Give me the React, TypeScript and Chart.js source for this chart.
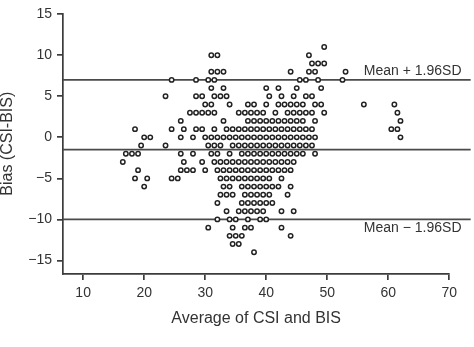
import React, { useEffect, useRef } from "react";
import { Chart, registerables } from "chart.js";

Chart.register(...registerables);

// ---- data: average of CSI and BIS for each observed bias level ----
const avgBias11 = [49.5];
const avgBias10 = [31, 32, 47];
const avgBias9 = [47.5, 48.5, 49.5];
const avgBias8 = [31, 32, 33, 44, 47, 48, 53];
const avgBias7 = [24.5, 28.5, 30.5, 31.5, 45.5, 46.5, 48.5, 52.5];
const avgBias6 = [31, 33, 40, 42, 45, 49];
const avgBias5 = [23.5, 28.5, 29.5, 31.5, 32.5, 33.5, 40.5, 42.5, 44.5, 46.5, 47.5];
const avgBias4 = [30, 31, 34, 37, 38, 40, 42, 43, 44, 45, 46, 48, 49, 56, 61];
const avgBias3 = [27.5, 28.5, 29.5, 30.5, 31.5, 35.5, 36.5, 37.5, 38.5, 39.5, 41.5, 43.5, 44.5, 45.5, 46.5, 47.5, 49.5, 61.5];
const avgBias2 = [26, 33, 37, 38, 39, 40, 41, 42, 43, 44, 45, 46, 48, 62];
const avgBias1 = [18.5, 24.5, 26.5, 28.5, 29.5, 31.5, 33.5, 34.5, 35.5, 36.5, 37.5, 38.5, 39.5, 40.5, 41.5, 42.5, 43.5, 44.5, 45.5, 46.5, 47.5, 60.5, 61.5];
const avgBias0 = [20, 21, 26, 28, 30, 31, 32, 33, 34, 35, 36, 37, 38, 39, 40, 41, 42, 43, 44, 45, 46, 47, 48, 62];
const avgBiasM1 = [19.5, 23.5, 30.5, 31.5, 32.5, 34.5, 35.5, 36.5, 37.5, 38.5, 39.5, 40.5, 41.5, 42.5, 43.5, 44.5, 45.5, 46.5, 47.5];
const avgBiasM2 = [17, 18, 19, 26, 28, 31, 32, 34, 36, 37, 38, 39, 40, 41, 42, 43, 44, 45, 46, 48];
const avgBiasM3 = [16.5, 26.5, 29.5, 31.5, 32.5, 33.5, 34.5, 35.5, 36.5, 37.5, 38.5, 39.5, 40.5, 41.5, 42.5, 43.5, 44.5];
const avgBiasM4 = [19, 26, 27, 28, 30, 32, 33, 34, 35, 36, 37, 38, 39, 40, 41, 42, 43, 44];
const avgBiasM5 = [18.5, 20.5, 24.5, 25.5, 32.5, 33.5, 34.5, 35.5, 36.5, 37.5, 38.5, 39.5, 40.5, 42.5];
const avgBiasM6 = [20, 33, 34, 36, 37, 38, 39, 40, 41, 42, 44];
const avgBiasM7 = [32.5, 33.5, 34.5, 36.5, 37.5, 38.5, 39.5, 40.5, 43.5];
const avgBiasM8 = [32, 36, 37, 38, 39, 40, 41];
const avgBiasM9 = [33.5, 35.5, 36.5, 37.5, 38.5, 39.5, 42.5, 44.5];
const avgBiasM10 = [32, 34, 35, 37, 39, 40];
const avgBiasM11 = [30.5, 34.5, 36.5, 37.5, 42.5];
const avgBiasM12 = [34, 35, 36, 44];
const avgBiasM13 = [34.5, 35.5];
const avgBiasM14 = [38];

const biasLevels = [11, 10, 9, 8, 7, 6, 5, 4, 3, 2, 1, 0, -1, -2, -3, -4, -5, -6, -7, -8, -9, -10, -11, -12, -13, -14];
const averagesPerBias = [
  avgBias11, avgBias10, avgBias9, avgBias8, avgBias7, avgBias6, avgBias5, avgBias4, avgBias3,
  avgBias2, avgBias1, avgBias0, avgBiasM1, avgBiasM2, avgBiasM3, avgBiasM4, avgBiasM5,
  avgBiasM6, avgBiasM7, avgBiasM8, avgBiasM9, avgBiasM10, avgBiasM11, avgBiasM12, avgBiasM13, avgBiasM14,
];

// limits of agreement
const limitValues = [7, -1.5, -10];
const limitLabels = ["Mean + 1.96SD", "Mean \u2212 1.96SD"];
const limitLabelYs = [8.1, -11.05];

const xTickValues = [10, 20, 30, 40, 50, 60, 70];
const yTickValues = [-15, -10, -5, 0, 5, 10, 15];

// ---- layout / style constants ----
const X_MIN = 6.7;
const X_MAX = 70;
const Y_MIN = -16.65;
const Y_MAX = 15.1;
const LINE_END_X = 73.5;
const LABEL_RIGHT_X = 72.0;

const FONT = '"Liberation Sans", Arial, Helvetica, sans-serif';
const TEXT = "#333333";
const AXIS = "#3c3c3c";
const REF = "#4a4a4a";
const POINT = "#222222";

const limitsPlugin = {
  id: "limits",
  beforeDatasetsDraw(chart: any) {
    const { ctx, scales } = chart;
    const xs = scales.x;
    const ys = scales.y;
    ctx.save();
    ctx.strokeStyle = REF;
    ctx.lineWidth = 1.6;
    for (const v of limitValues) {
      const y = ys.getPixelForValue(v);
      ctx.beginPath();
      ctx.moveTo(xs.getPixelForValue(X_MIN), y);
      ctx.lineTo(xs.getPixelForValue(LINE_END_X), y);
      ctx.stroke();
    }
    ctx.restore();
  },
  afterDatasetsDraw(chart: any) {
    const { ctx, scales } = chart;
    const xs = scales.x;
    const ys = scales.y;
    ctx.save();
    ctx.fillStyle = TEXT;
    ctx.font = `14px ${FONT}`;
    ctx.textAlign = "right";
    ctx.textBaseline = "middle";
    limitLabels.forEach((t, i) => {
      ctx.fillText(t, xs.getPixelForValue(LABEL_RIGHT_X), ys.getPixelForValue(limitLabelYs[i]));
    });
    ctx.restore();
  },
};

export default function App() {
  const ref = useRef<HTMLCanvasElement>(null);

  useEffect(() => {
    const points = biasLevels.flatMap((b, i) => averagesPerBias[i].map((a) => ({ x: a, y: b })));
    const chart = new Chart(ref.current as HTMLCanvasElement, {
      type: "scatter",
      data: {
        datasets: [
          {
            data: points,
            pointRadius: 2.2,
            pointHoverRadius: 2.2,
            pointBorderWidth: 1.5,
            pointBorderColor: POINT,
            pointBackgroundColor: "#ffffff",
          },
        ],
      },
      options: {
        responsive: false,
        animation: false,
        events: [],
        layout: { padding: { top: 6, right: 24.7, left: 0, bottom: 0 } },
        plugins: { legend: { display: false }, tooltip: { enabled: false } },
        scales: {
          x: {
            type: "linear",
            min: X_MIN,
            max: X_MAX,
            afterBuildTicks: (s: any) => {
              s.ticks = xTickValues.map((v) => ({ value: v }));
            },
            afterFit: (s: any) => {
              s.height = 73;
            },
            grid: { drawOnChartArea: false, drawTicks: true, tickLength: 6, color: AXIS, lineWidth: 1.7 },
            border: { display: true, color: AXIS, width: 1.7 },
            ticks: { font: { family: FONT, size: 14 }, color: TEXT, padding: 5, maxRotation: 0, autoSkip: false },
            title: {
              display: true,
              text: "Average of CSI and BIS",
              font: { family: FONT, size: 16 },
              color: TEXT,
              padding: { top: 0, bottom: 19 },
            },
          },
          y: {
            type: "linear",
            min: Y_MIN,
            max: Y_MAX,
            afterBuildTicks: (s: any) => {
              s.ticks = yTickValues.map((v) => ({ value: v }));
            },
            afterFit: (s: any) => {
              s.width = 63;
            },
            grid: { drawOnChartArea: false, drawTicks: true, tickLength: 6, color: AXIS, lineWidth: 1.7 },
            border: { display: true, color: AXIS, width: 1.7 },
            ticks: {
              font: { family: FONT, size: 14 },
              color: TEXT,
              padding: 5,
              autoSkip: false,
              callback: (v: any) => `${v}`.replace("-", "\u2212"),
            },
            title: {
              display: true,
              text: "Bias (CSI-BIS)",
              font: { family: FONT, size: 16, lineHeight: 0.9 },
              color: TEXT,
              padding: { top: 0, bottom: 0 },
            },
          },
        },
      },
      plugins: [limitsPlugin],
    });
    return () => chart.destroy();
  }, []);

  return (
    <div style={{ position: "absolute", left: 0, top: 0, width: 474, height: 347, background: "#ffffff" }}>
      <canvas ref={ref} width={474} height={347} style={{ display: "block", width: 474, height: 347 }} />
    </div>
  );
}
